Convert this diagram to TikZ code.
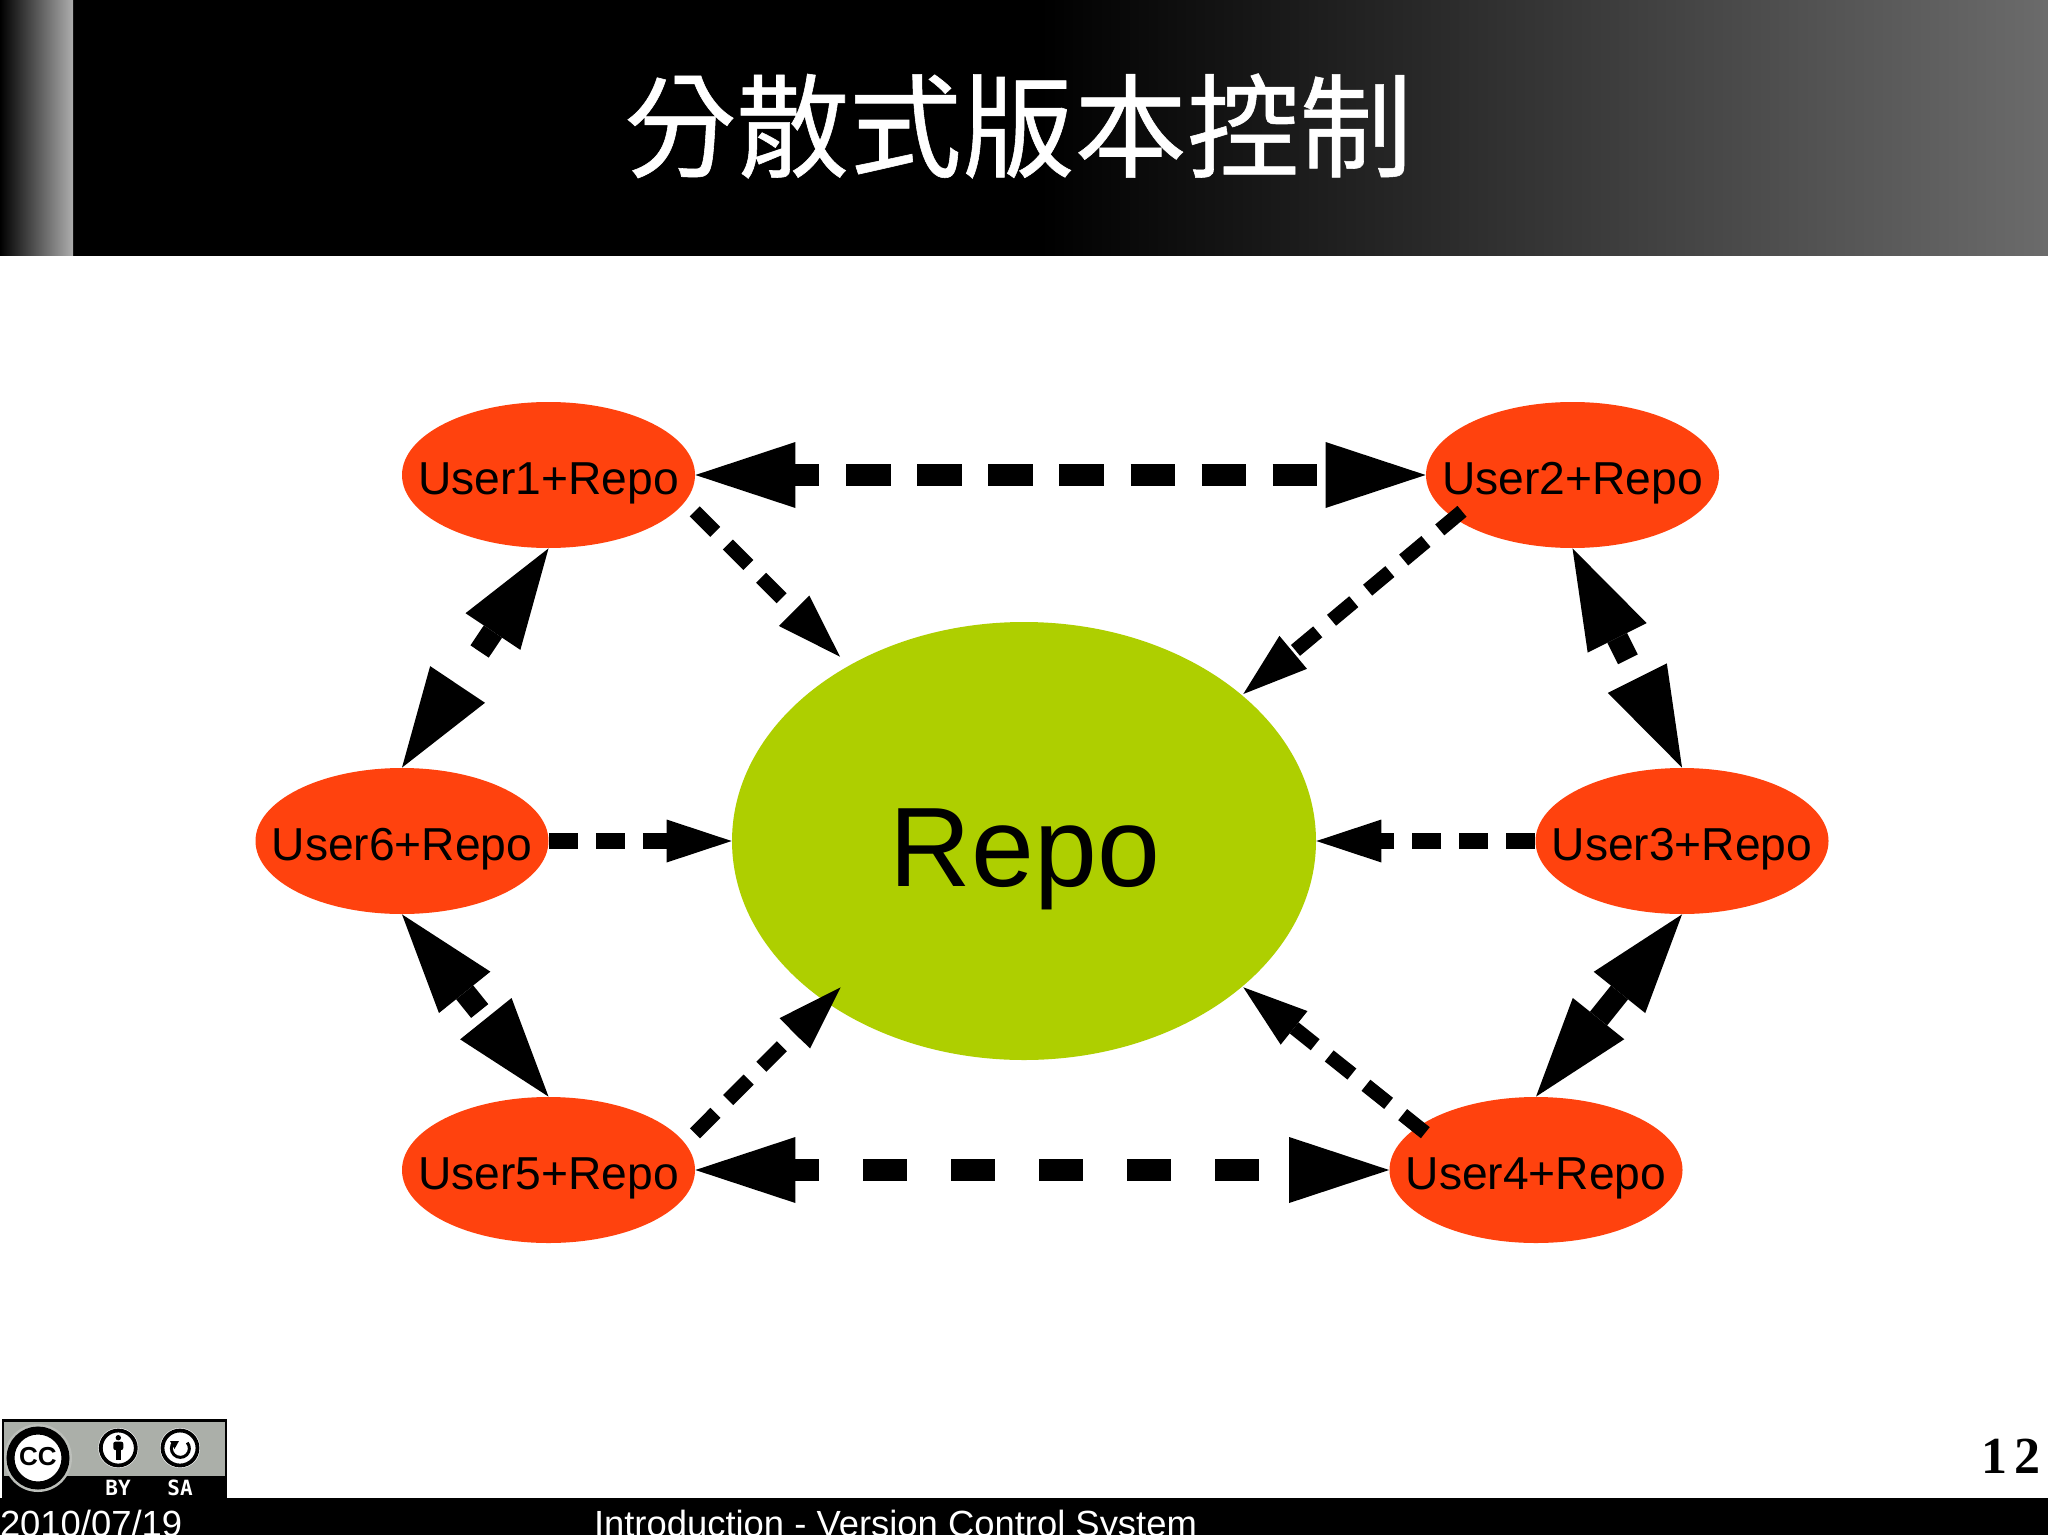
\documentclass[tikz,border=0pt]{standalone}
\usepackage{fontspec}
\setmainfont{Liberation Sans}
\newfontfamily\cjkf[FakeBold=0.5]{Noto Sans CJK TC}
\newfontfamily\numf{Liberation Serif}
\newfontfamily\pixf{DejaVu Sans Mono}
\usetikzlibrary{arrows.meta,shapes.geometric}
\definecolor{userc}{HTML}{FF420E}
\definecolor{repoc}{HTML}{AECF00}
\definecolor{badgec}{HTML}{ABAFA9}
\newcommand{\userlab}[1]{\makebox[0pt]{\raisebox{-9.5pt}[0pt][0pt]{\fontsize{23.1}{25}\selectfont #1}}}
\tikzset{
  x=0.5pt,y=-0.5pt,
  usernode/.style={ellipse,fill=userc,draw=none,inner sep=0pt,minimum width=146.5pt,minimum height=73pt,text=black},
  reponode/.style={ellipse,fill=repoc,draw=none,inner sep=0pt,minimum width=292pt,minimum height=219pt,text=black},
  bigtip/.style={{Triangle[length=50pt,width=33pt,line width=0pt]}-{Triangle[length=50pt,width=33pt,line width=0pt]},line width=11pt},
  smalltip/.style={-{Triangle[length=32.5pt,width=21.5pt,line width=0pt]},line width=7.1pt,dash pattern=on 14.5pt off 9pt},
  flat/.style={inner sep=0pt,outer sep=0pt},
}
\begin{document}
\begin{tikzpicture}
\useasboundingbox (0,0) rectangle (2048,1535);
\fill[white] (0,0) rectangle (2048,1535);
% title bar
\fill[black] (0,0) rectangle (2048,256);
\shade[left color=black,right color=black!58!white] (1040,0) rectangle (2048,256);
\shade[left color=black,right color=black!32!white] (0,0) rectangle (73,256);
\node[flat,text=white] (title) at (1018,126) {\cjkf\fontsize{56.3}{60}\selectfont 分散式版本控制};
% footer
\fill[black] (0,1498) rectangle (2048,1535);
\node[flat,anchor=base west,text=white] (date) at (0,1536.5) {\fontsize{18.2}{20}\selectfont 2010/07/19};
\node[flat,anchor=base west,text=white] (foot) at (594,1536.5) {\fontsize{18.2}{20}\selectfont Introduction - Version Control System};
\node[flat,anchor=base east,text=black] (page) at (2041,1473) {\numf\bfseries\fontsize{26}{28}\selectfont 1\hspace{4pt}2};
% licence badge
\fill[black] (2,1419) rectangle (227,1498);
\fill[badgec] (3.5,1422) rectangle (225,1476);
\fill[badgec!80!white] (38,1458) circle (34);
\fill[white] (38,1458) circle (31);
\draw[black,line width=4pt] (38,1458) circle (27.5);
\node[flat] (cc) at (38,1457) {\fontsize{13}{14}\selectfont\bfseries CC};
\fill[white] (118.3,1448) circle (20);
\draw[black,line width=1.9pt] (118.3,1448) circle (17.5);
\fill[black] (118.3,1437.7) circle (2.7);
\fill[black,rounded corners=1pt] (113.3,1441.7) rectangle (123.3,1450);
\fill[black] (115.7,1449) rectangle (121,1460);
\fill[white] (180,1448) circle (20);
\draw[black,line width=1.9pt] (180,1448) circle (17.5);
\draw[black,line width=1.5pt] (174,1442) arc[start angle=-135,end angle=-400,radius=9];
\fill[black] (170,1441) -- (179,1441) -- (174.5,1449) -- cycle;
\node[flat,text=white] (by) at (118,1488) {\pixf\bfseries\fontsize{10.5}{11}\selectfont BY};
\node[flat,text=white] (sa) at (180,1488) {\pixf\bfseries\fontsize{10.5}{11}\selectfont SA};
% nodes
\node[usernode] (u1) at (548.5,475) {\userlab{User1+Repo}};
\node[usernode] (u2) at (1572.5,475) {\userlab{User2+Repo}};
\node[usernode] (u3) at (1682,841) {\userlab{User3+Repo}};
\node[usernode] (u4) at (1536,1170) {\userlab{User4+Repo}};
\node[usernode] (u5) at (548.5,1170) {\userlab{User5+Repo}};
\node[usernode] (u6) at (402,841) {\userlab{User6+Repo}};
\node[reponode] (r) at (1024,841) {\makebox[0pt]{\hspace{1pt}\raisebox{-22.5pt}[0pt][0pt]{\fontsize{56.5}{60}\selectfont Repo}}};
% two-way connectors
\draw[bigtip,dash pattern=on 22.2pt off 13.35pt,dash phase=10.2pt] (u1.east) -- (u2.west);
\draw[bigtip,dash pattern=on 22pt off 22pt,dash phase=10pt] (u5.east) -- (u4.west);
\draw[bigtip,dash pattern=on 12pt off 30pt] (u1.south) -- (u6.north);
\draw[bigtip,dash pattern=on 12pt off 30pt] (u6.south) -- (u5.north);
\draw[bigtip,dash pattern=on 12pt off 30pt] (u2.south) -- (u3.north);
\draw[bigtip] (u3.south) -- (u4.north);
% connectors to the central repository
\draw[smalltip] ([shift={(146.2,36.3)}]u1.center) -- ([shift={(-184,-184.3)}]r.center);
\draw[smalltip] ([shift={(-110.5,36.3)}]u2.center) -- ([shift={(219.3,-147)}]r.center);
\draw[smalltip,line width=8pt] (u3.west) -- (r.east);
\draw[smalltip] ([shift={(-110.7,-37.3)}]u4.center) -- ([shift={(219.3,146.3)}]r.center);
\draw[smalltip] ([shift={(146.5,-36.7)}]u5.center) -- ([shift={(-183.3,146.3)}]r.center);
\draw[smalltip,line width=8pt] (u6.east) -- (r.west);
\end{tikzpicture}
\end{document}
